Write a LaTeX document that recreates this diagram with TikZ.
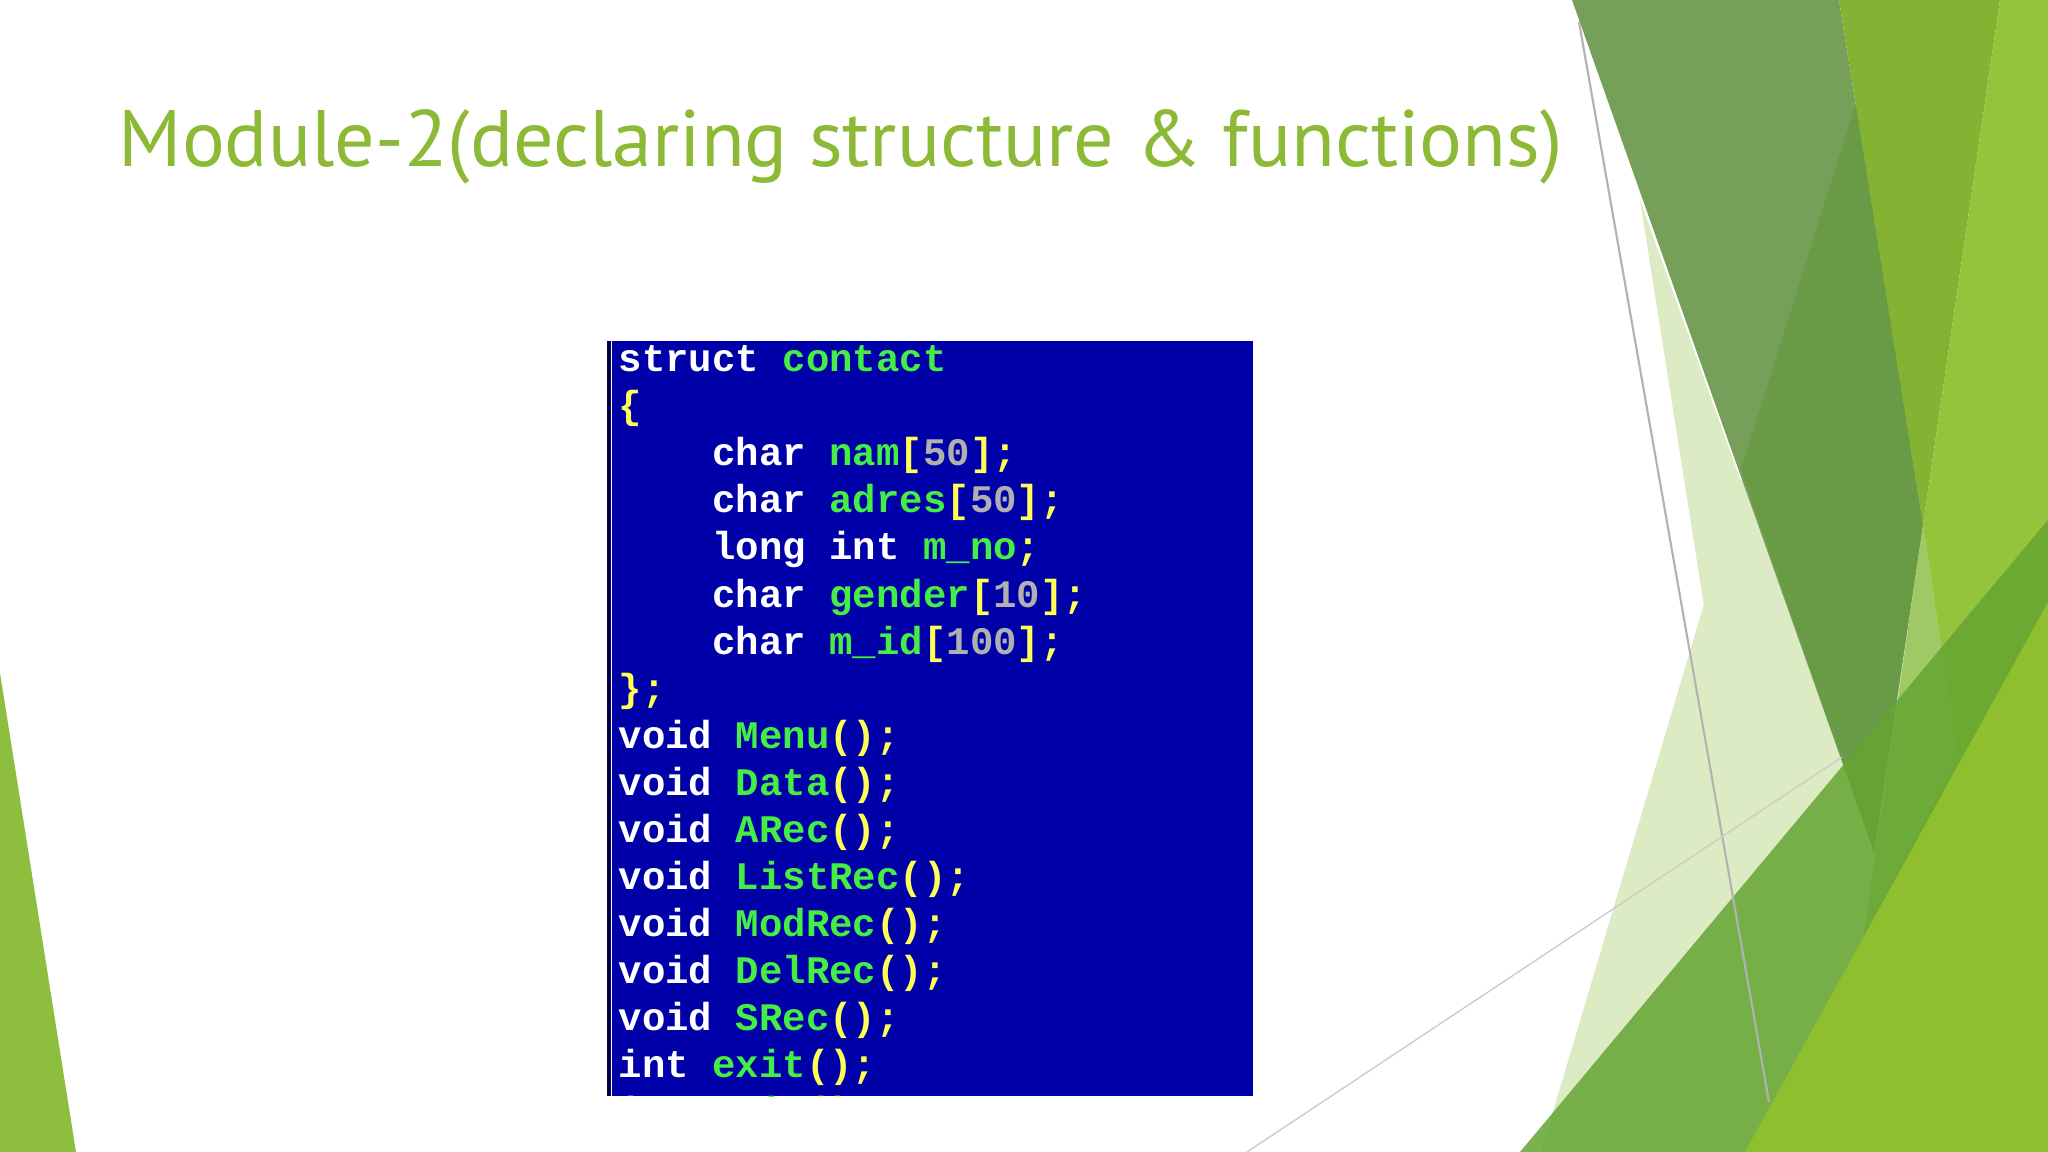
\documentclass[tikz,border=0pt]{standalone}
\usepackage{fontspec}
\setmainfont{PT Sans}
\newfontfamily\codefont{Liberation Mono}
\definecolor{ttl}{HTML}{8CBA36}
\definecolor{bx}{HTML}{0000A8}
\definecolor{cg}{HTML}{44EE44}
\definecolor{cy}{HTML}{FFFF55}
\definecolor{cn}{HTML}{B0B0B0}
\definecolor{pale}{HTML}{DDEBC4}
\newcommand\cG[1]{\textcolor{cg}{#1}}
\newcommand\cY[1]{\textcolor{cy}{#1}}
\newcommand\cN[1]{\textcolor{cn}{#1}}
\tikzset{codeline/.style={anchor=base west,inner sep=0pt,text=white,font=\codefont\bfseries\fontsize{11.1pt}{13pt}\selectfont}}
\begin{document}
\begin{tikzpicture}[x=0.01cm,y=-0.01cm]
\fill[white] (0,0) rectangle (2048,1152);
\useasboundingbox (0,0) rectangle (2048,1152);
% decoration right
\fill[pale] (1541,1152) -- (1853,103) -- (2048,1152) -- cycle;
\fill[pale] (1640,200) -- (1874,852) -- (1850,1152) -- (1790,1152) -- cycle;
\fill[fill={rgb,255:red,118;green,160;blue,90}] (1572,0) -- (1839,0) -- (1923,525) -- (1874,852) -- cycle;
\fill[fill={rgb,255:red,105;green,154;blue,69}] (1741,470) -- (1856,103) -- (1923,525) -- (1874,852) -- cycle;
\fill[fill={rgb,255:red,132;green,178;blue,50}] (1839,0) -- (2000,0) -- (1923,525) -- cycle;
\fill[fill={rgb,255:red,160;green,201;blue,101}] (1923,525) -- (1958,757) -- (1864,933) -- cycle;
\fill[fill={rgb,255:red,147;green,196;blue,60}] (2000,0) -- (2048,0) -- (2048,1152) -- (1830,1152) -- (1864,933) -- (1958,757) -- (1923,525) -- cycle;
\fill[fill={rgb,255:red,100;green,165;blue,50},opacity=0.85] (1520,1152) -- (2048,520) -- (2048,1152) -- cycle;
\fill[fill={rgb,255:red,143;green,191;blue,46}] (1745,1152) -- (2048,602) -- (2048,1152) -- cycle;
\draw[gray!60,line width=0.6pt] (1579,22) -- (1769,1102);
\draw[gray!40,line width=0.4pt] (1247,1152) -- (1842,757);
% left
\fill[fill={rgb,255:red,141;green,190;blue,61}] (0,673) -- (76,1152) -- (0,1152) -- cycle;
% title
\node (title) [anchor=base west,inner sep=0pt,text=ttl] at (118,167) {\resizebox{14.43cm}{!}{Module-2(declaring structure \& functions)}};
% code box
\fill[bx] (612,341) rectangle (1253,1096);
\draw[black!70!blue,line width=1.2pt] (609,341) -- (609,1096);
\begin{scope}
\clip (612,341) rectangle (1253,1096);
\node (l1) [codeline] at (618,372) {struct \cG{contact}};
\node (l2) [codeline] at (618,419) {\cY{\{}};
\node (l3) [codeline] at (618,466) {\ \ \ \ char \cG{nam}\cY{[}\cN{50}\cY{];}};
\node (l4) [codeline] at (618,513) {\ \ \ \ char \cG{adres}\cY{[}\cN{50}\cY{];}};
\node (l5) [codeline] at (618,560) {\ \ \ \ long int \cG{m\_no}\cY{;}};
\node (l6) [codeline] at (618,607) {\ \ \ \ char \cG{gender}\cY{[}\cN{10}\cY{];}};
\node (l7) [codeline] at (618,654) {\ \ \ \ char \cG{m\_id}\cY{[}\cN{100}\cY{];}};
\node (l8) [codeline] at (618,701) {\cY{\};}};
\node (l9) [codeline] at (618,748) {void \cG{Menu}\cY{();}};
\node (l10) [codeline] at (618,795) {void \cG{Data}\cY{();}};
\node (l11) [codeline] at (618,842) {void \cG{ARec}\cY{();}};
\node (l12) [codeline] at (618,889) {void \cG{ListRec}\cY{();}};
\node (l13) [codeline] at (618,936) {void \cG{ModRec}\cY{();}};
\node (l14) [codeline] at (618,983) {void \cG{DelRec}\cY{();}};
\node (l15) [codeline] at (618,1030) {void \cG{SRec}\cY{();}};
\node (l16) [codeline] at (618,1077) {int \cG{exit}\cY{();}};
\node (l17) [codeline] at (618,1124) {int \cG{main}\cY{();}};
\end{scope}
\end{tikzpicture}
\end{document}
